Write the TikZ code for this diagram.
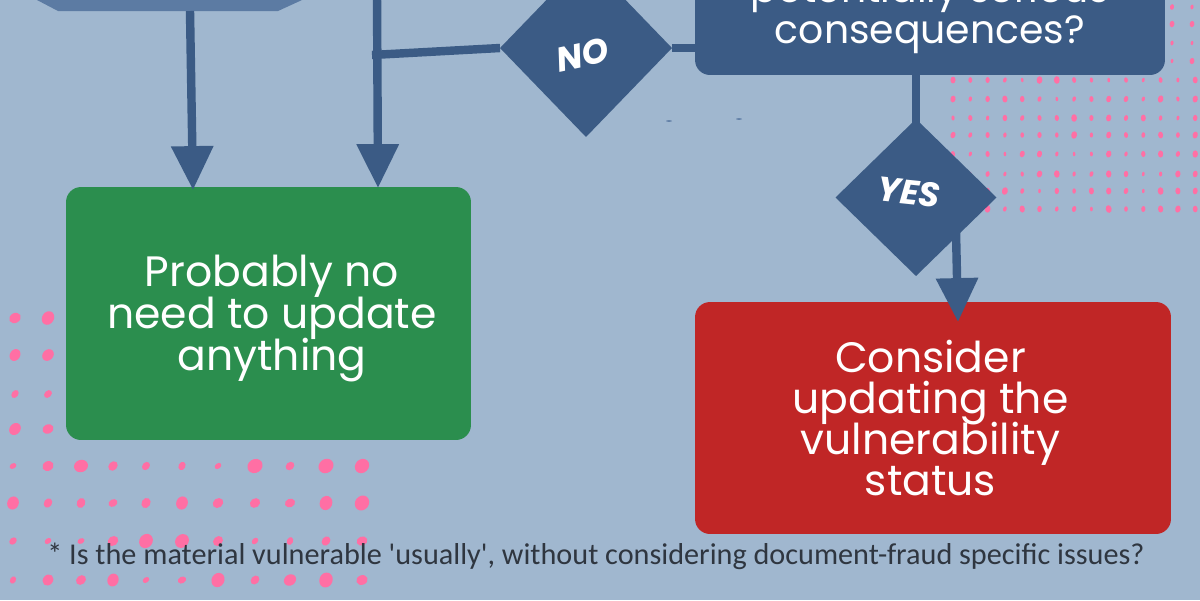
\documentclass[tikz,border=0pt]{standalone}
\usepackage{fontspec}
\setmainfont{Poppins}
\newfontfamily\notefont{Carlito}
\usetikzlibrary{arrows.meta, calc, shapes.geometric}

\definecolor{paneBlue}{HTML}{A0B7CF}
\definecolor{deepBlue}{HTML}{3B5B85}
\definecolor{softBlue}{HTML}{5C7BA3}
\definecolor{okGreen}{HTML}{2B8E4E}
\definecolor{riskRed}{HTML}{C02626}
\definecolor{dotPink}{HTML}{FF6FA4}
\definecolor{noteGrey}{HTML}{2F3640}

\lineskiplimit=-30pt

\tikzset{
    answerbox/.style={rectangle, rounded corners=0.3cm, text=white, align=center,
        inner sep=0pt, outer sep=0pt, font=\fontsize{24.2}{23.9}\selectfont},
    choice/.style={diamond, fill=deepBlue, inner sep=0pt, outer sep=0pt},
    choicetext/.style={text=white, inner sep=0pt, font=\fontsize{19.5}{19.5}\selectfont\bfseries\itshape},
    flow/.style={draw=deepBlue, line width=4.8pt},
    thinflow/.style={draw=deepBlue, line width=4.3pt},
    flowtip/.style={flow, -{Triangle[length=25pt, width=23pt]}},
    pinkdot/.style={fill=dotPink},
}

\begin{document}
\begin{tikzpicture}[x=0.02cm, y=-0.02cm]
    \clip (0,0) rectangle (1200,600);
    \fill[paneBlue] (0,0) rectangle (1200,600);

    % dots, lower left
    \pgfmathsetseed{41}
    \foreach \y in {318,355,394,429} {
        \foreach \x in {15,48} {
            \pgfmathsetmacro\dotw{3+3.5*rnd}
            \pgfmathsetmacro\dotr{20+50*rnd}
            \fill[pinkdot, shift={(\x,\y)}, rotate=\dotr] (0,0) ellipse [x radius=\dotw+1.2, y radius=\dotw];
        }
    }
    \foreach \y in {466,503,541,580} {
        \foreach \x in {13,48,81,113,146,182,218,255,290,326,362} {
            \pgfmathsetmacro\dotw{2.5+4.5*rnd}
            \pgfmathsetmacro\dotr{20+50*rnd}
            \fill[pinkdot, shift={(\x,\y)}, rotate=\dotr] (0,0) ellipse [x radius=\dotw+1, y radius=\dotw];
        }
    }

    % dots, upper right
    \foreach \y in {80,99,118,135,154,174,191,209} {
        \foreach \i in {0,...,14} {
            \pgfmathsetmacro\dotw{1.3+1.7*rnd}
            \pgfmathsetmacro\dotr{70+30*rnd}
            \fill[pinkdot, shift={(953+17.3*\i,\y)}, rotate=\dotr] (0,0) ellipse [x radius=\dotw+0.9, y radius=\dotw];
        }
    }
    \foreach \y in {7,24,43,61} {
        \foreach \x in {1172,1192} {
            \pgfmathsetmacro\dotw{1.2+1.3*rnd}
            \fill[pinkdot, shift={(\x,\y)}, rotate=80] (0,0) ellipse [x radius=\dotw+0.8, y radius=\dotw];
        }
    }

    % specks
    \fill[softBlue] (669,121) ellipse [x radius=3, y radius=0.8];
    \fill[softBlue] (739,119) ellipse [x radius=3, y radius=0.8];

    % top box runs off the page
    \fill[softBlue] (37,0) -- (58,11) -- (278,11) -- (302,0) -- cycle;
    \coordinate (topfoot) at (190,11);

    \node[answerbox, fill=deepBlue, minimum width=9.4cm, minimum height=2.48cm,
        font=\fontsize{22.4}{23.4}\selectfont] (askbox) at (930,13)
        {potentially serious\\consequences?};
    \node[answerbox, fill=okGreen, minimum width=8.1cm, minimum height=5.06cm] (okbox) at (268.5,313.5) {};
    \node[answerbox, fill=riskRed, minimum width=9.52cm, minimum height=4.64cm] (riskbox) at (933,418) {};
    \node[answerbox] (oktext) at (272,318.5) {Probably no\\need to update\\anything};
    \node[answerbox, font=\fontsize{24.2}{23.3}\selectfont] (risktext) at (930.5,418)
        {Consider\\updating the\\vulnerability\\status};

    \coordinate (topin) at (377,-5);
    \coordinate (joint) at (372,55);

    \draw[flowtip] (topfoot) -- ($(okbox.north)+(-75.5,3)$);
    \draw[flowtip] (topin) -- ($(okbox.north)+(109.5,1)$);
    \draw[thinflow] (askbox.south -| 916,0) -- (916,125);
    \node[choice, minimum width=3.44cm, minimum height=3.56cm] (no) at (586,48) {};
    \node[choice, minimum width=3.22cm, minimum height=3.14cm] (yes) at (916,197.5) {};
    \draw[thinflow] (no.east) -- (no.east -| askbox.west);
    \draw[flow] (no.west) -- (joint);
    \draw[flowtip] ($(yes.center)+(40,34)$) -- ($(riskbox.north)+(25,20)$);

    \node[choicetext, rotate=12] (notext) at (583,55) {NO};
    \node[choicetext, rotate=-6] (yestext) at (909,192) {YES};

    \node[anchor=west, inner sep=0pt, text=noteGrey, font=\notefont\fontsize{17.2}{20}\selectfont] (note) at (47,556)
        {* Is the material vulnerable 'usually', without considering document-fraud specific issues?};
\end{tikzpicture}
\end{document}
